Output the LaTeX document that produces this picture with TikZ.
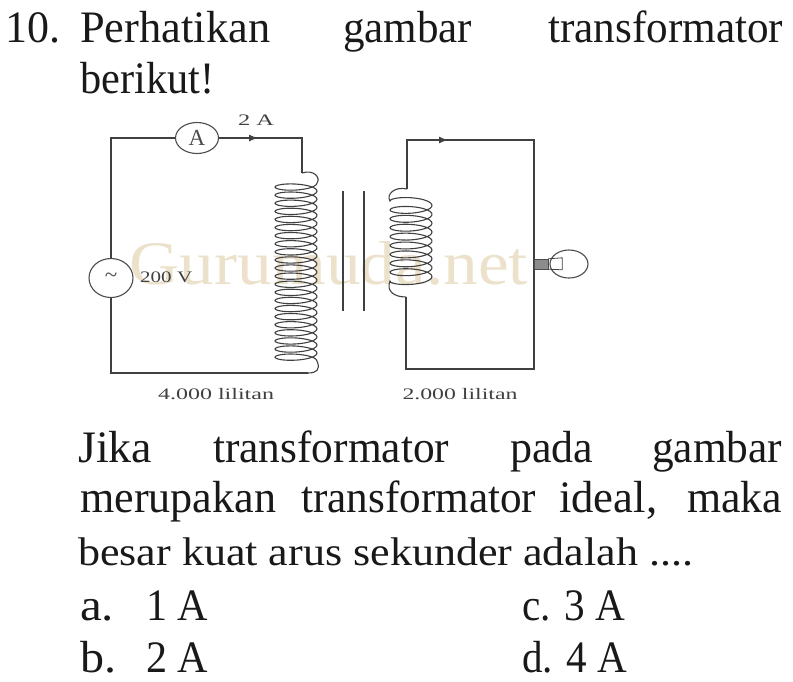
\documentclass[tikz,border=0pt]{standalone}
\usepackage{graphicx}
\usepackage{fontspec}
\setmainfont{Liberation Serif}
\usetikzlibrary{arrows.meta, shapes.geometric}
\definecolor{marktan}{RGB}{236,226,204}
\tikzset{
  txt/.style={anchor=base west, inner sep=0pt, font=\fontsize{45}{45}\selectfont, text=black!90},
  txtb/.style={txt, font=\fontsize{40}{40}\selectfont},
  lbl/.style={inner sep=0pt, font=\fontsize{16}{16}\selectfont, text=black!75},
  wire/.style={draw=black!75, line width=1.3pt},
  thin wire/.style={draw=black!75, line width=1.1pt},
  meter/.style={draw=black!70, line width=1.1pt, ellipse, inner sep=0pt, font=\fontsize{23}{23}\selectfont, text=black!70},
  tip/.style={-{Latex[length=9pt,width=7pt]}},
}
% word with a fixed width
\newcommand{\wrd}[5][txt]{\node[#1] (#2) at (#3) {\resizebox{#4pt}{\height}{#5}};}
\begin{document}
\begin{tikzpicture}[x=1pt,y=-1pt]
  \useasboundingbox (0,0) rectangle (793,681);
  \node[inner sep=0pt, font=\fontsize{62}{62}\selectfont, text=marktan] (mark) at (329,263) {\resizebox{398pt}{\height}{Gurumuda.net}};

  \wrd{ten}{5,42}{55}{10.}
  \wrd{w1}{80,42}{190}{Perhatikan}
  \wrd{w2}{343,42}{129}{gambar}
  \wrd{w3}{548,42}{235}{transformator}
  \wrd{w4}{80,93}{134}{berikut!}

  % primary circuit
  \node[meter, minimum width=43pt, minimum height=31pt] (amm) at (197,138) {A};
  \node[meter, minimum width=44pt, minimum height=39pt] (src) at (111,278) {\textasciitilde};
  \node[lbl, anchor=west] (volt) at (140,277) {\resizebox{52pt}{\height}{200 V}};
  \node[lbl] (amp) at (256,120) {\resizebox{36pt}{\height}{2 A}};
  \coordinate (arr1) at (258,138);
  \coordinate (ptop) at (302,173);
  \coordinate (pbot) at (308,373);
  \draw[wire] (amm.east) -- (ptop |- amm.east) -- (ptop);
  \draw[wire, tip] (amm.east) -- (arr1);
  \draw[wire] (amm.west) -| (src.north);
  \draw[wire] (src.south) |- (pbot);
  \draw[thin wire] (ptop) .. controls (314,169) and (321,178) .. (317,183)
    -- plot[domain=0:22, samples=530, smooth] ({296+21*cos(360*\x)}, {183+8.1*\x+5*sin(360*\x)})
    .. controls (321,370) and (316,373) .. (pbot);
  \node[lbl] (ptxt) at (216,394) {\resizebox{116pt}{\height}{4.000 lilitan}};

  % iron core
  \coordinate (c1a) at (343,191);
  \coordinate (c1b) at (343,311);
  \coordinate (c2a) at (364,191);
  \coordinate (c2b) at (364,311);
  \draw[wire] (c1a) -- (c1b);
  \draw[wire] (c2a) -- (c2b);

  % secondary circuit
  \coordinate (stop) at (407,189);
  \coordinate (sbot) at (406,297);
  \coordinate (str) at (534,140);
  \coordinate (sbr) at (534,369);
  \coordinate (arr2) at (448,140);
  \draw[wire] (stop) |- (str) -- (sbr) -| (sbot);
  \draw[wire, tip] (stop |- str) -- (arr2);
  \draw[thin wire] (stop) .. controls (394,186) and (386,195) .. (390,201)
    -- plot[domain=0:9, samples=220, smooth] ({411-21*cos(360*\x)}, {201+8.9*\x-5.5*sin(360*\x)})
    .. controls (386,291) and (394,297) .. (sbot);
  \node[lbl] (stxt) at (460,394) {\resizebox{115pt}{\height}{2.000 lilitan}};

  % lamp
  \node[meter, minimum width=38pt, minimum height=28pt] (bulb) at (569,264) {};
  \node[draw=black!70, fill=black!45, minimum width=14pt, minimum height=10pt, inner sep=0pt] (base) at (541,264) {};
  \draw[thin wire, line width=0.8pt] (base.north east) -- ++(14,-1) -- ++(0,12) -- (base.south east);
  \draw[thin wire, line width=0.8pt] (base.east) -- (bulb.west);

  \wrd{w5}{78,462}{74}{Jika}
  \wrd{w6}{213,462}{236}{transformator}
  \wrd{w7}{510,462}{83}{pada}
  \wrd{w8}{652,462}{130}{gambar}
  \wrd{w9}{80,512}{196}{merupakan}
  \wrd{w10}{301,512}{235}{transformator}
  \wrd{w11}{559,512}{98}{ideal,}
  \wrd{w12}{687,512}{95}{maka}
  \wrd[txtb]{w13}{78,565}{615}{besar kuat arus sekunder adalah ....}
  \wrd{a1}{80,620}{34}{a.}
  \wrd{a2}{146,620}{62}{1 A}
  \wrd{c1}{522,620}{103}{c. 3 A}
  \wrd{b1}{80,672}{36}{b.}
  \wrd{b2}{146,672}{62}{2 A}
  \wrd{d1}{522,672}{105}{d. 4 A}
\end{tikzpicture}
\end{document}
